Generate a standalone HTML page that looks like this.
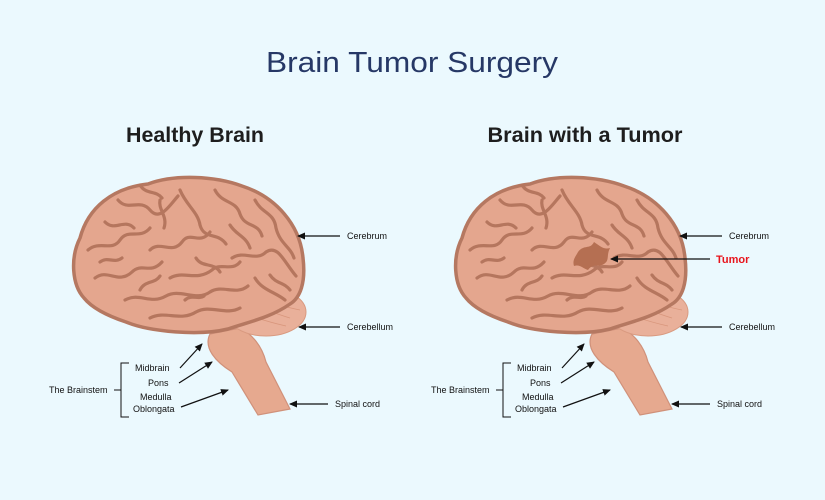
<!DOCTYPE html>
<html><head><meta charset="utf-8"><style>
html,body{margin:0;padding:0;background:#ebf9fe;}
svg{display:block;font-family:"Liberation Sans",sans-serif;}
</style></head><body>
<svg width="825" height="500" viewBox="0 0 825 500" xmlns="http://www.w3.org/2000/svg">
<defs>
<marker id="ah" markerWidth="8" markerHeight="8" refX="7" refY="4" orient="auto" markerUnits="userSpaceOnUse">
<path d="M0,0.5 L8,4 L0,7.5 Z" fill="#111"/></marker>
<g id="brain">
 <path d="M210,334 C203,348 216,362 232,372 L258,415 L290,409 L266,362 C262,346 252,334 240,328 Z" fill="#e6a98f" stroke="#d0917a" stroke-width="1.2"/>
 <ellipse cx="266" cy="312" rx="40" ry="24" fill="#e9b09a" stroke="#d99a80" stroke-width="1"/>
 <path d="M240,300 C255,305 270,312 290,318 M236,310 C250,316 268,322 286,326 M250,296 C262,300 280,306 300,310" fill="none" stroke="#d8967c" stroke-width="0.8"/>
 <path d="M84,298 C72,285 70,258 80,238 C88,208 112,188 148,184 C175,174 215,176 242,186 C276,197 300,225 303,258 C306,283 300,298 290,304 C270,318 248,322 228,329 C200,336 150,332 126,322 C108,316 92,308 84,298 Z" fill="#e4a68e" stroke="#b57861" stroke-width="3.5"/>
 <g fill="none" stroke="#b5765e" stroke-width="3.2" stroke-linecap="round">
  <path d="M88,250 C100,240 112,252 120,240 C128,228 140,240 150,228"/>
  <path d="M95,278 C108,268 118,285 132,272 C142,262 150,275 162,262"/>
  <path d="M118,200 C128,212 140,198 150,210 C160,222 170,205 178,196"/>
  <path d="M150,250 C160,240 172,255 182,242 C190,230 200,246 210,232"/>
  <path d="M180,190 C186,205 198,212 200,225 C204,240 218,232 226,244"/>
  <path d="M215,190 C222,204 236,200 240,214 C245,228 258,222 262,236"/>
  <path d="M255,200 C262,214 274,212 276,228 C280,244 290,246 294,258"/>
  <path d="M232,258 C244,250 256,262 266,252 C278,244 284,262 296,276"/>
  <path d="M125,300 C140,292 150,305 166,296 C180,288 196,302 210,292 C222,284 236,296 248,286"/>
  <path d="M150,318 C165,310 180,322 196,312 C210,304 226,316 240,308"/>
  <path d="M170,278 C184,270 196,282 212,270 C220,262 232,272 240,262"/>
  <path d="M255,278 C262,290 275,292 285,300"/>
  <path d="M196,258 C202,268 214,262 220,272"/>
  <path d="M105,222 C115,232 124,218 134,228"/>
  <path d="M140,290 C145,280 155,284 160,276"/>
  <path d="M100,262 C108,256 114,264 122,258"/>
  <path d="M160,200 C158,210 168,216 164,228"/>
  <path d="M140,185 C146,195 156,190 162,198"/>
  <path d="M230,225 C236,235 246,236 250,248"/>
  <path d="M270,275 C276,284 284,282 290,290"/>
  <path d="M185,300 C192,294 198,300 204,296"/>
 </g>
</g>
</defs>
<text x="412" y="72" text-anchor="middle" font-size="29" fill="#263866" textLength="292" lengthAdjust="spacingAndGlyphs">Brain Tumor Surgery</text>
<text x="195" y="142" text-anchor="middle" font-size="21" font-weight="bold" fill="#1e1e1e" textLength="138" lengthAdjust="spacingAndGlyphs">Healthy Brain</text>
<text x="585" y="142" text-anchor="middle" font-size="21" font-weight="bold" fill="#1e1e1e" textLength="195" lengthAdjust="spacingAndGlyphs">Brain with a Tumor</text>

<g id="side">
 <use href="#brain"/>
 <g stroke="#111" stroke-width="1.2" marker-end="url(#ah)">
  <line x1="340" y1="236" x2="298" y2="236"/>
  <line x1="340" y1="327" x2="299" y2="327"/>
  <line x1="328" y1="404" x2="290" y2="404"/>
  <line x1="180" y1="368" x2="202" y2="344"/>
  <line x1="179" y1="383" x2="212" y2="362"/>
  <line x1="181" y1="407" x2="228" y2="390"/>
 </g>
 <path d="M129,363 L121,363 L121,417 L129,417 M114,390 L121,390" fill="none" stroke="#111" stroke-width="1"/>
 <g font-size="9" fill="#111">
  <text x="347" y="239">Cerebrum</text>
  <text x="347" y="330">Cerebellum</text>
  <text x="335" y="407">Spinal cord</text>
  <text x="135" y="371">Midbrain</text>
  <text x="148" y="386">Pons</text>
  <text x="140" y="400">Medulla</text>
  <text x="133" y="412">Oblongata</text>
  <text x="49" y="393">The Brainstem</text>
 </g>
</g>
<use href="#side" transform="translate(382,0)"/>
<path d="M578,252 C584,244 590,250 594,242 C600,246 604,250 610,248 C606,256 610,260 604,264 C598,268 594,262 588,270 C582,268 580,264 574,266 C572,260 576,256 578,252 Z" fill="#b56f52"/>
<line x1="710" y1="259" x2="611" y2="259" stroke="#111" stroke-width="1.2" marker-end="url(#ah)"/>
<text x="716" y="263" font-size="11" font-weight="bold" fill="#e8141c">Tumor</text>
</svg>
</body></html>
